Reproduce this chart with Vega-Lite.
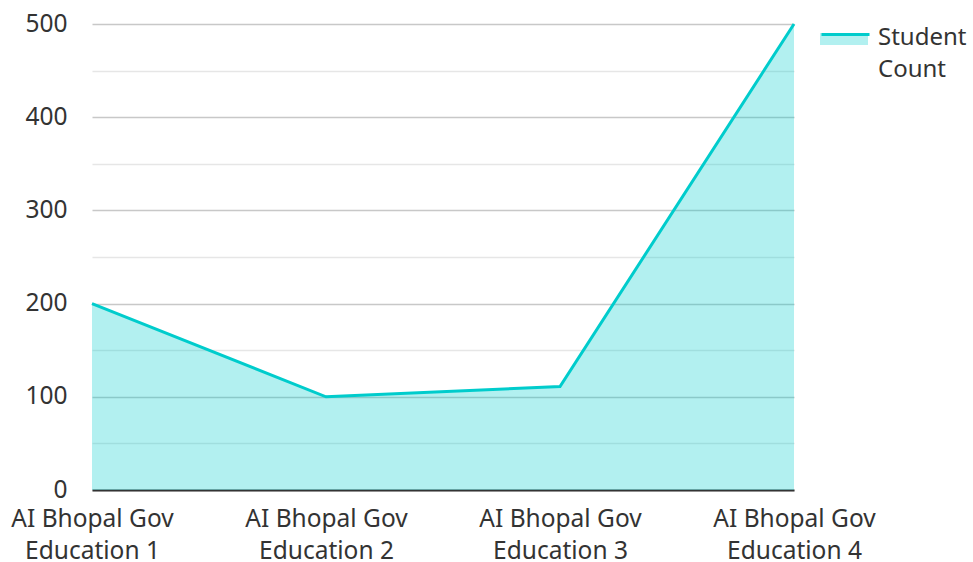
{
  "$schema": "https://vega.github.io/schema/vega-lite/v6.json",
  "width": 702,
  "height": 466,
  "padding": {"left": 10, "top": 11, "right": 5, "bottom": 5},
  "background": "white",
  "config": {
    "font": "Noto Sans",
    "view": {"stroke": null},
    "style": {"guide-label": {"lineHeight": 32}},
    "axis": {"labelFont": "Noto Sans", "labelColor": "#333333", "labelFontSize": 24.5}
  },
  "data": {
    "values": [
      {"name": "AI Bhopal Gov Education 1", "series": "Student Count", "count": 200},
      {"name": "AI Bhopal Gov Education 2", "series": "Student Count", "count": 100},
      {"name": "AI Bhopal Gov Education 3", "series": "Student Count", "count": 111},
      {"name": "AI Bhopal Gov Education 4", "series": "Student Count", "count": 500}
    ]
  },
  "encoding": {
    "x": {
      "field": "name",
      "type": "ordinal",
      "scale": {"type": "point", "padding": 0},
      "axis": {
        "title": null,
        "labelAngle": 0,
        "labelExpr": "[slice(datum.label, 0, 13), slice(datum.label, 14)]",
        "labelLineHeight": 32,
        "labelPadding": 17,
        "ticks": false,
        "domain": true,
        "domainColor": "#333333",
        "domainWidth": 2,
        "grid": false
      }
    },
    "y": {
      "field": "count",
      "type": "quantitative",
      "scale": {"domain": [0, 500], "nice": false},
      "axis": {
        "title": null,
        "values": [0, 50, 100, 150, 200, 250, 300, 350, 400, 450, 500],
        "labelExpr": "datum.value % 100 === 0 ? datum.label : ''",
        "ticks": false,
        "domain": false,
        "labelPadding": 25,
        "grid": true,
        "gridColor": {"condition": {"test": "datum.value % 100 === 0", "value": "#c8c8c8"}, "value": "#e6e6e6"},
        "gridWidth": 1.5
      }
    }
  },
  "layer": [
    {
      "mark": {"type": "area", "opacity": 0.3, "color": "#00cccc"},
      "encoding": {
        "fill": {
          "field": "series",
          "type": "nominal",
          "scale": {"range": ["#00cccc"]},
          "legend": {
            "title": null,
            "orient": "none",
            "legendX": 728,
            "legendY": -12,
            "symbolType": "M-1,-0.125H1V0.375H-1Z",
            "symbolSize": 2304,
            "symbolOpacity": 0.3,
            "symbolStrokeWidth": 0,
            "labelOpacity": 0,
            "labelFontSize": 24,
            "labelFont": "Noto Sans",
            "labelExpr": "split(datum.label, ' ')",
            "labelOffset": 7,
            "labelBaseline": "middle"
          }
        }
      }
    },
    {
      "mark": {"type": "line", "strokeWidth": 3, "color": "#00cccc"},
      "encoding": {
        "stroke": {
          "field": "series",
          "type": "nominal",
          "scale": {"range": ["#00cccc"]},
          "legend": {
            "title": null,
            "orient": "none",
            "legendX": 728,
            "legendY": -12,
            "symbolType": "M-1,-0.125H1",
            "symbolSize": 2304,
            "symbolStrokeWidth": 3,
            "labelFontSize": 24,
            "labelFont": "Noto Sans",
            "labelColor": "#333333",
            "labelExpr": "split(datum.label, ' ')",
            "labelOffset": 7,
            "labelBaseline": "middle"
          }
        }
      }
    }
  ]
}
